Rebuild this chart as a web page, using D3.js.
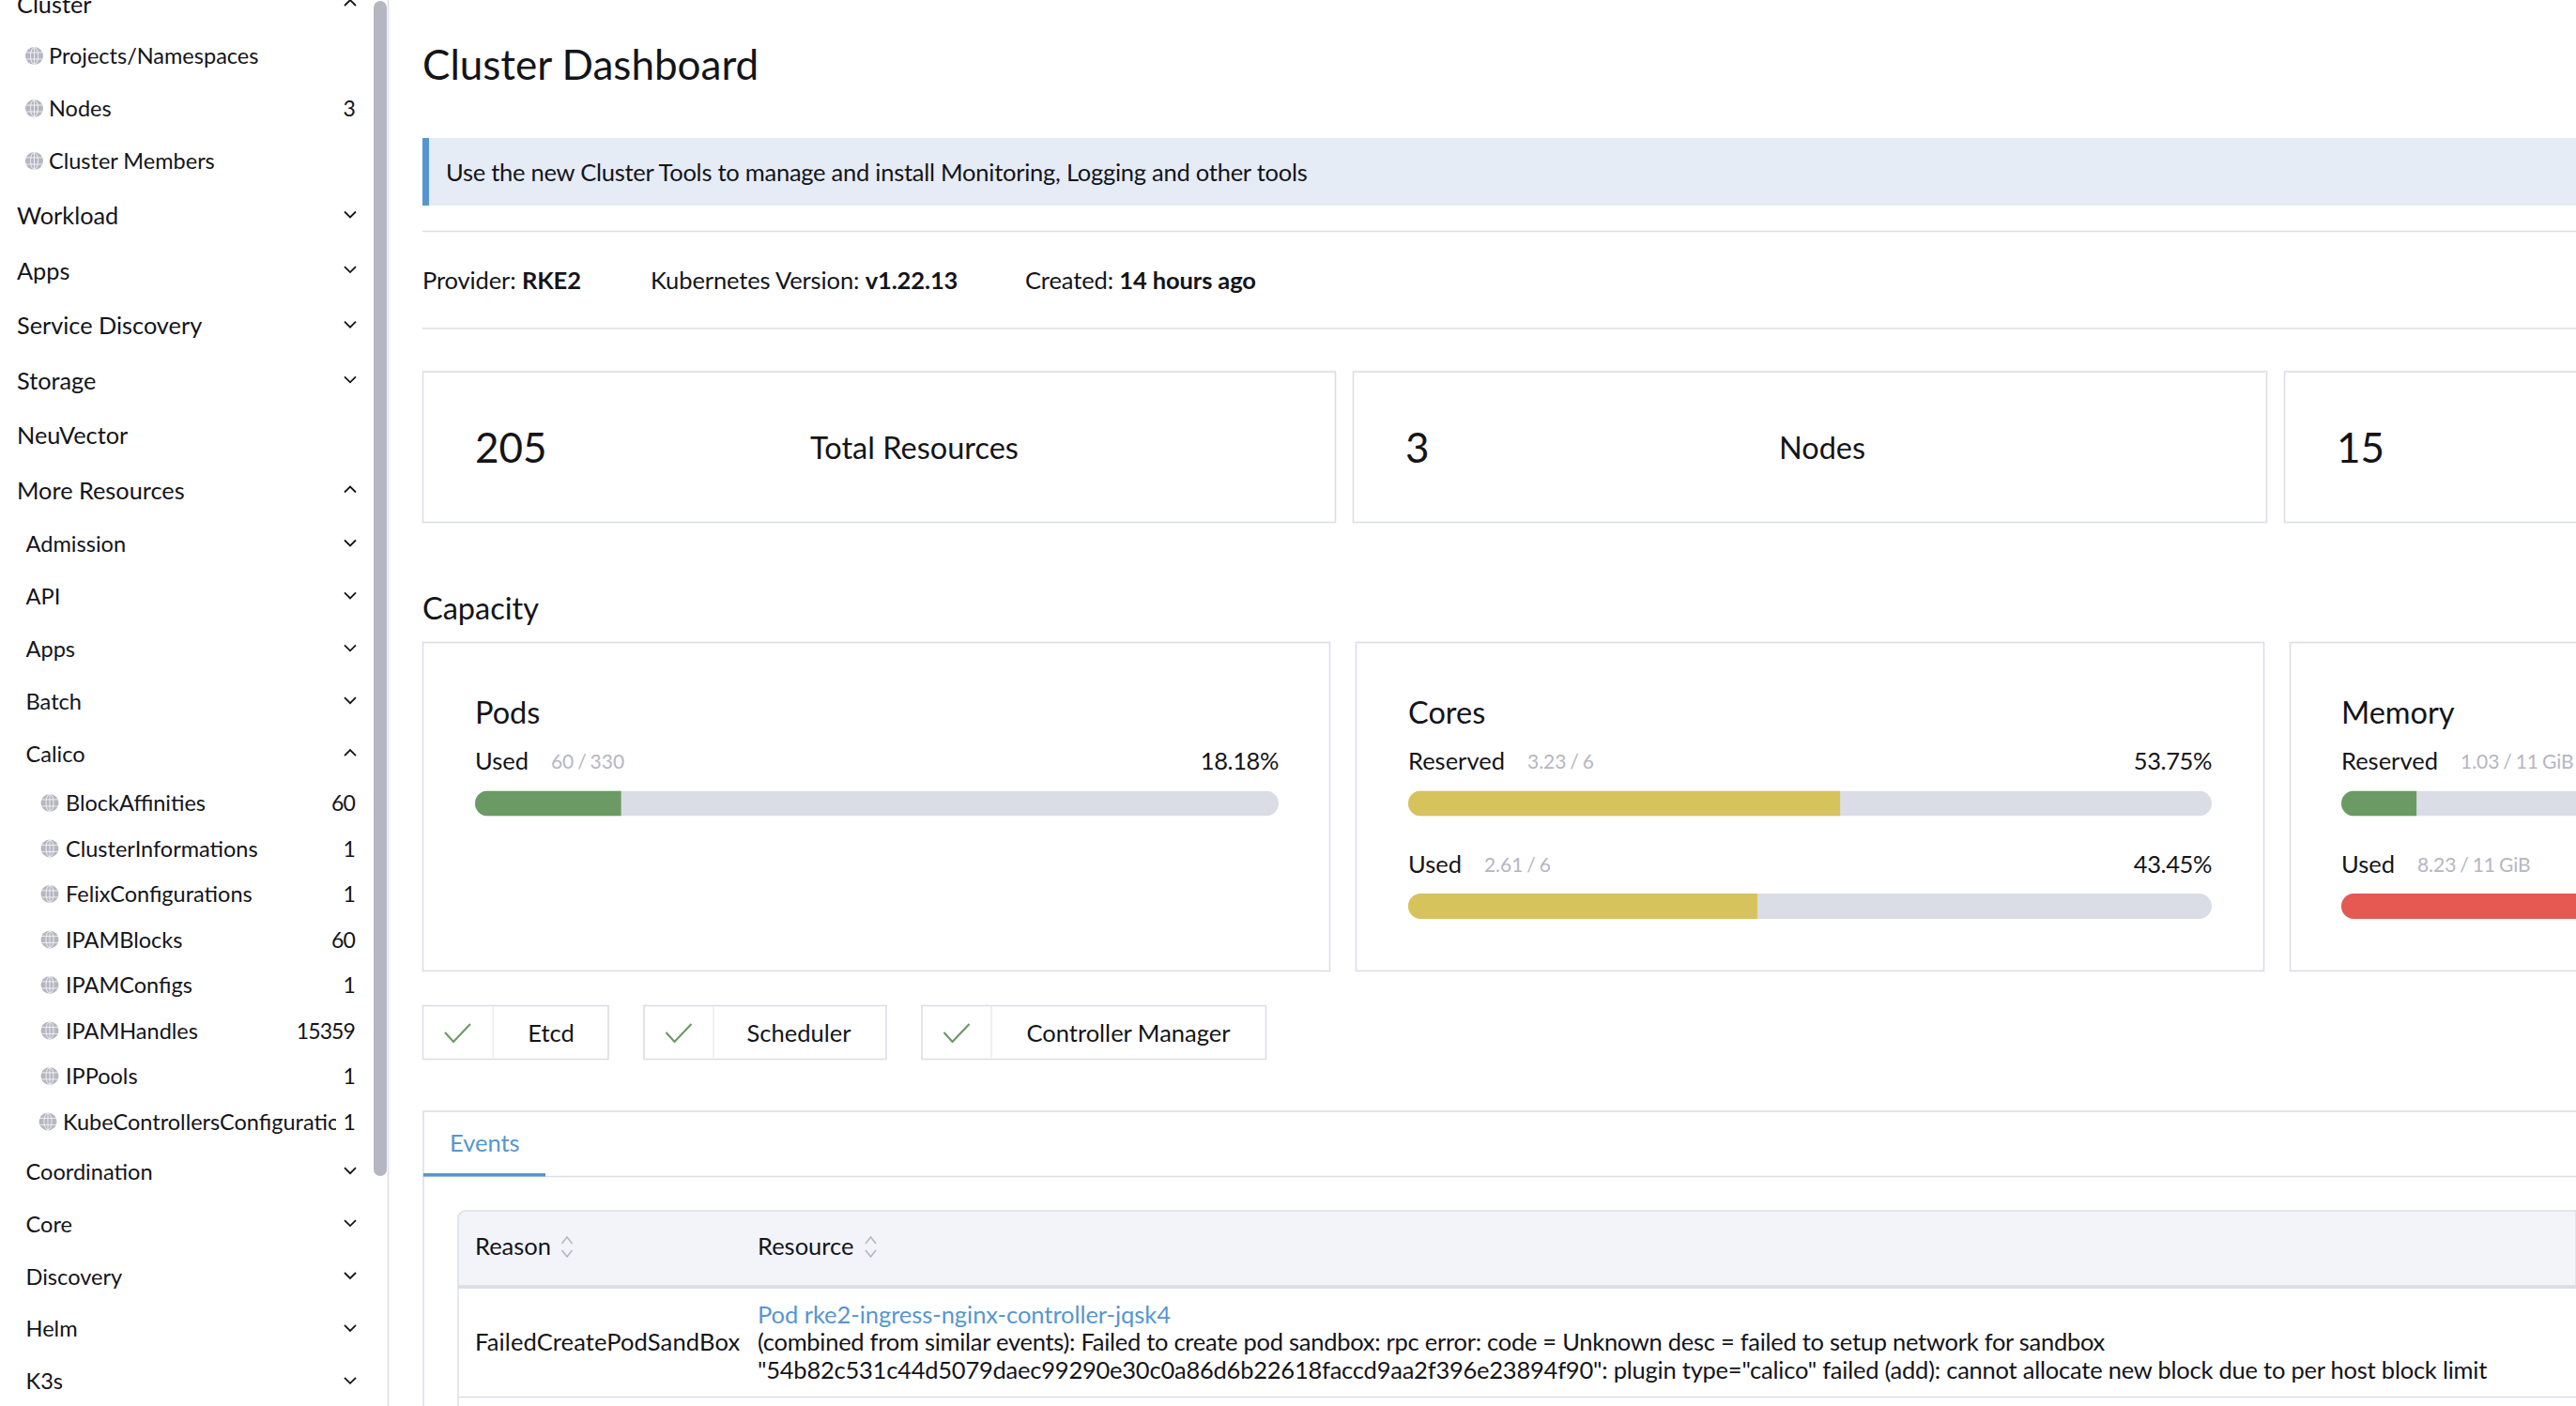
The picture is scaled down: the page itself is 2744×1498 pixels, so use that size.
<!DOCTYPE html>
<html>
<head>
<meta charset="utf-8">
<script src="https://cdnjs.cloudflare.com/ajax/libs/d3/7.8.5/d3.min.js"></script>
<style>
  html, body { margin: 0; padding: 0; background: #fff; overflow: hidden; }
  svg { display: block; font-family: Lato, sans-serif; fill: #141419; }
</style>
</head>
<body>
<svg id="page" width="2744" height="1498"></svg>
<script>
// sidebar rows
const navLabels = ["Cluster", "Projects/Namespaces", "Nodes", "Cluster Members", "Workload", "Apps", "Service Discovery", "Storage", "NeuVector", "More Resources", "Admission", "API", "Apps", "Batch", "Calico", "BlockAffinities", "ClusterInformations", "FelixConfigurations", "IPAMBlocks", "IPAMConfigs", "IPAMHandles", "IPPools", "KubeControllersConfigurations", "Coordination", "Core", "Discovery", "Helm", "K3s"];
const navKinds = ["open", "item", "item", "item", "closed", "closed", "closed", "closed", "link", "open", "subclosed", "subclosed", "subclosed", "subclosed", "subopen", "leaf", "leaf", "leaf", "leaf", "leaf", "leaf", "leaf", "leaf", "subclosed", "subclosed", "subclosed", "subclosed", "subclosed"];
const navCounts = ["", "", "3", "", "", "", "", "", "", "", "", "", "", "", "", "60", "1", "1", "60", "1", "15359", "1", "1", "", "", "", "", ""];

// header
const metaLabels = ["Provider: ", "Kubernetes Version: ", "Created: "];
const metaValues = ["RKE2", "v1.22.13", "14 hours ago"];
const countValues = ["205", "3", "15"];
const countLabels = ["Total Resources", "Nodes", ""];

// capacity gauges
const gaugeTitles = ["Pods", "Cores", "Memory"];
const gaugeRows = [["Used"], ["Reserved", "Used"], ["Reserved", "Used"]];
const gaugeAmounts = [["60 / 330"], ["3.23 / 6", "2.61 / 6"], ["1.03 / 11 GiB", "8.23 / 11 GiB"]];
const gaugePercents = [[18.18], [53.75, 43.45], [9.36, 74.82]];

const statusLabels = ["Etcd", "Scheduler", "Controller Manager"];

const tableColumns = ["Reason", "Resource"];
const eventReason = "FailedCreatePodSandBox";
const eventLink = "Pod rke2-ingress-nginx-controller-jqsk4";
const eventLines = [
  "(combined from similar events): Failed to create pod sandbox: rpc error: code = Unknown desc = failed to setup network for sandbox",
  "\"54b82c531c44d5079daec99290e30c0a86d6b22618faccd9aa2f396e23894f90\": plugin type=\"calico\" failed (add): cannot allocate new block due to per host block limit"
];

const BORDER = "#dcdee7", MUTED = "#b6b6c2", BLUE = "#5696d0", GREEN = "#6c9a65";
const svg = d3.select("#page");

function text(parent, x, y, str, size, opts = {}) {
  return parent.append("text")
    .attr("x", x).attr("y", y - 1.5)
    .attr("dominant-baseline", "central")
    .attr("font-size", size)
    .attr("text-anchor", opts.anchor || "start")
    .attr("font-weight", opts.weight || 400)
    .attr("letter-spacing", opts.spacing || null)
    .style("fill", opts.fill || null)
    .text(str);
}

function box(parent, x0, y0, x1, y1, stroke = BORDER) {
  return parent.append("rect")
    .attr("x", x0 + 0.5).attr("y", y0 + 0.5)
    .attr("width", x1 - x0 - 1).attr("height", y1 - y0)
    .attr("fill", "#fff").attr("stroke", stroke).attr("stroke-width", 1.6);
}

// ---- sidebar ----
const nav = svg.append("g");
const chevron = d3.line();
svg.append("clipPath").attr("id", "nav-clip").append("rect")
  .attr("x", 0).attr("y", -10).attr("width", 358).attr("height", 1600);

function drawGlobe(cx, cy) {
  const g = nav.append("g").attr("transform", `translate(${cx},${cy})`)
    .attr("fill", "none").attr("stroke", "#fff").attr("stroke-opacity", 0.75).attr("stroke-width", 1);
  g.append("circle").attr("r", 9.5).attr("fill", MUTED).attr("stroke", "none");
  g.append("ellipse").attr("rx", 4).attr("ry", 9);
  g.append("path").attr("d", "M-9,-3.5H9M-9,3.5H9M0,-9V9");
}

let navY = 4;
navLabels.forEach((label, i) => {
  const kind = navKinds[i];
  if (i > 0) {
    const prev = navKinds[i - 1];
    const crossing = (kind === "leaf") !== (prev === "leaf");
    if (crossing) navY += 52.8;
    else if (kind === "leaf") navY += 48.5;
    else if (kind === "item") navY += 56;
    else if (kind.startsWith("sub")) navY += prev.startsWith("sub") ? 55.9 : 57;
    else navY += prev === "item" ? 57.5 : 58.6;
  }
  const isKube = label.startsWith("Kube");
  const leaf = kind === "leaf", item = kind === "item";
  const sub = kind.startsWith("sub");
  const x = leaf ? (isKube ? 67 : 70) : item ? 52 : sub ? 27.5 : 18;
  const size = leaf || item ? 23.5 : sub ? 23.6 : 25.3;
  const rowY = item ? navY : navY + 1;
  const t = text(nav, x, rowY, label, size);
  if (isKube) t.attr("clip-path", "url(#nav-clip)");
  if (leaf || item) drawGlobe(leaf ? (isKube ? 51 : 53) : 36.5, navY - 0.5);
  if (navCounts[i]) text(nav, 378, rowY, navCounts[i], 23, { anchor: "end", spacing: -0.9 });
  if (kind.endsWith("open") || kind.endsWith("closed")) {
    const dir = kind.endsWith("open") ? -1 : 1;
    nav.append("path")
      .attr("d", chevron([[367, navY - 1 - 3 * dir], [373, navY - 1 + 3 * dir], [379, navY - 1 - 3 * dir]]))
      .attr("fill", "none").attr("stroke", "#141419").attr("stroke-width", 1.8);
  }
});

// scrollbar and sidebar edge
nav.append("rect").attr("x", 398).attr("y", 1).attr("width", 14).attr("height", 1252).attr("rx", 7).attr("fill", "#b5b6c2");
nav.append("line").attr("x1", 413.5).attr("x2", 413.5).attr("y1", 0).attr("y2", 1498).attr("stroke", BORDER).attr("stroke-width", 1.6);

// ---- heading, banner, meta ----
const main = svg.append("g");
text(main, 450, 69, "Cluster Dashboard", 44);

main.append("rect").attr("x", 450).attr("y", 147).attr("width", 2294).attr("height", 72).attr("fill", "#e5ecf6");
main.append("rect").attr("x", 450).attr("y", 147).attr("width", 7).attr("height", 72).attr("fill", BLUE);
text(main, 475, 184, "Use the new Cluster Tools to manage and install Monitoring, Logging and other tools", 25.5, { spacing: -0.25 });

[246.5, 350].forEach(y => main.append("line").attr("x1", 450).attr("x2", 2744).attr("y1", y).attr("y2", y).attr("stroke", BORDER).attr("stroke-width", 1.6));

const metaX = [450, 693, 1092];
metaLabels.forEach((label, i) => {
  const t = text(main, metaX[i], 299.5, label, 25.5, { spacing: -0.12 });
  t.append("tspan").attr("font-weight", 700).text(metaValues[i]);
});

// ---- count cards ----
const countX = [[450, 1423], [1441, 2415], [2433, 3400]];
countValues.forEach((v, i) => {
  box(main, countX[i][0], 395.5, countX[i][1], 556);
  text(main, countX[i][0] + 56, 477.5, v, 44);
  if (countLabels[i]) text(main, [974, 1941][i], 478, countLabels[i], 32.5, { anchor: "middle" });
});

text(main, 450, 649, "Capacity", 32.5);

// ---- capacity gauges ----
const percentScale = d3.scaleLinear().domain([0, 100]);
const gaugeColor = d3.scaleThreshold().domain([25, 70]).range([GREEN, "#d6c35c", "#e45951"]);
const gaugeCardX = [[450, 1416], [1444, 2411], [2439, 3405]];
const gaugeRowY = [811.5, 921];
const barHeight = 27;

gaugeTitles.forEach((title, i) => {
  const [cx0, cx1] = gaugeCardX[i];
  box(main, cx0, 684, cx1 + 1, 1034);
  const barX0 = i === 2 ? cx0 + 55 : cx0 + 56, barX1 = barX0 + 856;
  percentScale.range([barX0, barX1]);
  text(main, barX0, 760, title, 32.5);
  gaugeRows[i].forEach((row, j) => {
    const y = gaugeRowY[j];
    const label = text(main, barX0, y, row, 25.5);
    label.append("tspan").attr("dx", 24).attr("font-size", 21).attr("word-spacing", -1.5).style("fill", MUTED).text(gaugeAmounts[i][j]);
    const pct = gaugePercents[i][j];
    text(main, barX1, y, pct.toFixed(2) + "%", 25.5, { anchor: "end", spacing: -0.4 });

    const clipId = `bar-${i}-${j}`;
    svg.append("clipPath").attr("id", clipId).append("rect")
      .attr("x", barX0).attr("y", y + 31).attr("width", barX1 - barX0).attr("height", barHeight).attr("rx", barHeight / 2);
    const bar = main.append("g").attr("clip-path", `url(#${clipId})`);
    bar.append("rect").attr("x", barX0).attr("y", y + 31).attr("width", barX1 - barX0).attr("height", barHeight).attr("fill", "#dadde5");
    bar.append("rect").attr("x", barX0).attr("y", y + 31).attr("width", percentScale(pct) - barX0).attr("height", barHeight).attr("fill", gaugeColor(pct));
  });
});

// ---- status badges ----
const statusBox = [[450, 525.5, 648.5, 587], [685.5, 760, 944.5, 851], [981.5, 1056, 1349, 1202]];
statusLabels.forEach((label, i) => {
  const [x0, split, x1, mid] = statusBox[i];
  box(main, x0, 1071, x1, 1128);
  main.append("line").attr("x1", split).attr("x2", split).attr("y1", 1072).attr("y2", 1127).attr("stroke", "#ececf1").attr("stroke-width", 1.5);
  main.append("path")
    .attr("d", chevron([[x0 + 24, 1100], [x0 + 33, 1110], [x0 + 51, 1091]]))
    .attr("fill", "none").attr("stroke", GREEN).attr("stroke-width", 2.2);
  text(main, mid, 1101, label, 25.5, { anchor: "middle" });
});

// ---- events tab + table ----
main.append("path").attr("d", "M451,1498V1184H2744").attr("fill", "none").attr("stroke", BORDER).attr("stroke-width", 1.6);
main.append("line").attr("x1", 451).attr("x2", 2744).attr("y1", 1253.5).attr("y2", 1253.5).attr("stroke", BORDER).attr("stroke-width", 1.6);
main.append("rect").attr("x", 451).attr("y", 1250).attr("width", 130).attr("height", 3.5).attr("fill", BLUE);
text(main, 479, 1218, "Events", 25.5).style("fill", BLUE);

main.append("path").attr("d", "M488,1370V1298a8,8 0 0 1 8,-8H2744V1370Z").attr("fill", "#f3f4f9").attr("stroke", BORDER).attr("stroke-width", 1.5);
main.append("rect").attr("x", 488).attr("y", 1369.5).attr("width", 2256).attr("height", 3.5).attr("fill", BORDER);
main.append("line").attr("x1", 488).attr("x2", 488).attr("y1", 1370).attr("y2", 1498).attr("stroke", BORDER).attr("stroke-width", 1.5);

const columnX = [506, 807], sortX = [604, 927.5];
tableColumns.forEach((col, i) => {
  text(main, columnX[i], 1328, col, 25.5);
  main.append("path")
    .attr("d", `M${sortX[i] - 5.5},1325l5.5,-7l5.5,7M${sortX[i] - 5.5},1332l5.5,7l5.5,-7`)
    .attr("fill", "none").attr("stroke", MUTED).attr("stroke-width", 1.6);
});

text(main, 506, 1430.5, eventReason, 25.5, { spacing: 0.12 });
text(main, 807, 1401.5, eventLink, 25.5, { spacing: -0.05 }).style("fill", BLUE);
text(main, 807, 1430.5, eventLines[0], 25.5, { spacing: -0.27 });
text(main, 807, 1460, eventLines[1], 25.5, { spacing: -0.226 });
main.append("line").attr("x1", 488).attr("x2", 2744).attr("y1", 1488.5).attr("y2", 1488.5).attr("stroke", BORDER).attr("stroke-width", 1.6);
</script>
</body>
</html>
